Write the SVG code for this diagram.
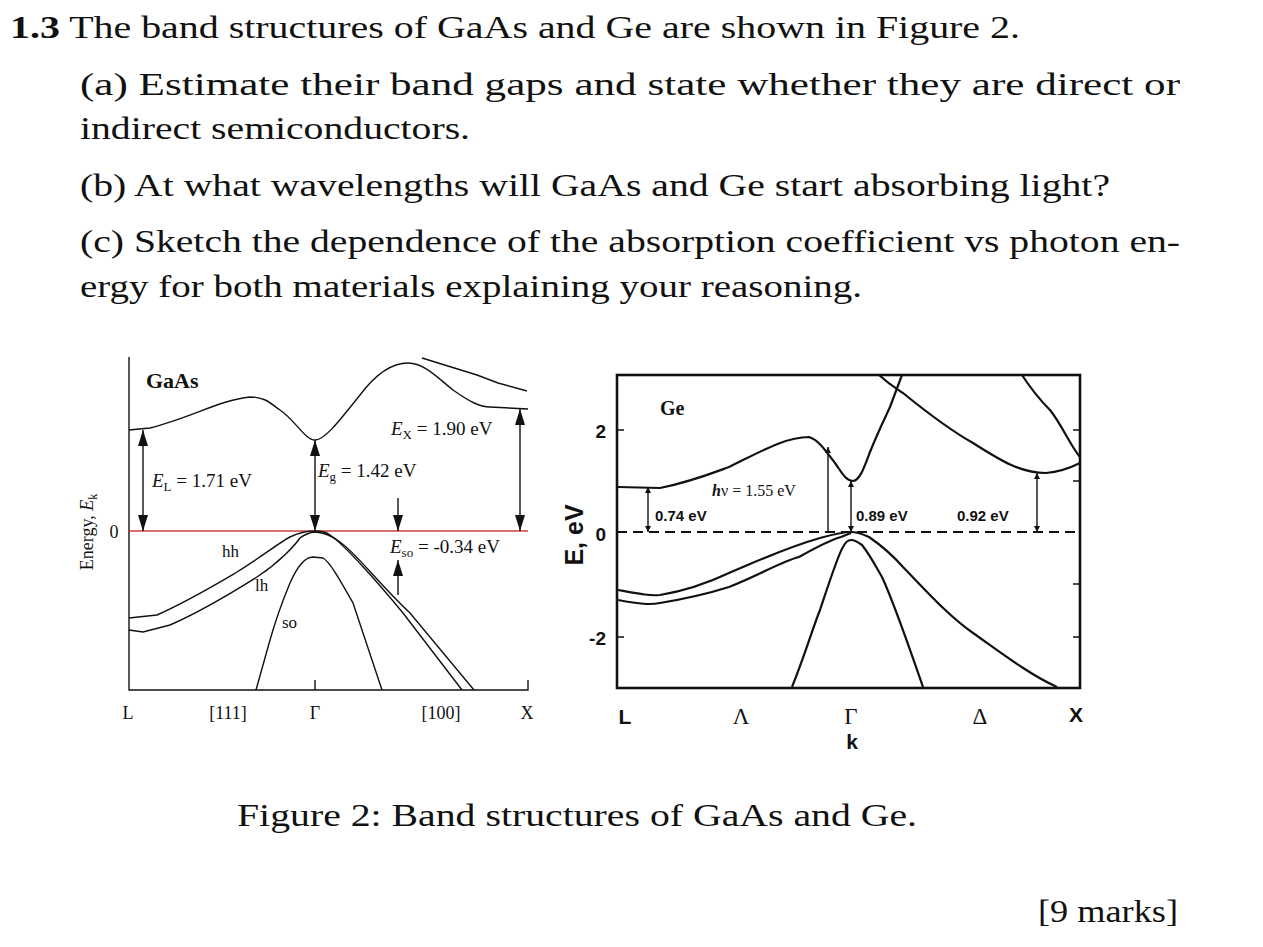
<svg xmlns="http://www.w3.org/2000/svg" width="1263" height="947" viewBox="0 0 1263 947">
<style>
.t{font-family:"Liberation Serif",serif;font-size:32px;fill:#111}
.s{font-family:"Liberation Serif",serif;fill:#111}
.b{font-family:"Liberation Sans",sans-serif;font-weight:bold;fill:#111}
.c{fill:none;stroke:#111;stroke-width:1.4}
.g{fill:none;stroke:#111;stroke-width:2.2}
.ar{stroke:#111;stroke-width:1.4}
</style>
<defs>
<marker id="ah" viewBox="0 0 16 10" refX="16" refY="5" markerWidth="16" markerHeight="10" orient="auto" markerUnits="userSpaceOnUse"><path d="M0,0 L16,5 L0,10 z" fill="#111"/></marker>
<marker id="ahs" viewBox="0 0 10 10" refX="10" refY="5" markerWidth="6" markerHeight="6" orient="auto" markerUnits="userSpaceOnUse"><path d="M0,0 L10,5 L0,10 z" fill="#111"/></marker>
</defs>
<rect width="1263" height="947" fill="#fff"/>
<g id="question">
<text class="t" x="10" y="38" textLength="1010" lengthAdjust="spacingAndGlyphs"><tspan font-weight="bold">1.3</tspan> The band structures of GaAs and Ge are shown in Figure 2.</text>
<text class="t" x="80" y="95" textLength="1100" lengthAdjust="spacingAndGlyphs">(a) Estimate their band gaps and state whether they are direct or</text>
<text class="t" x="80" y="139" textLength="390" lengthAdjust="spacingAndGlyphs">indirect semiconductors.</text>
<text class="t" x="80" y="196" textLength="1030" lengthAdjust="spacingAndGlyphs">(b) At what wavelengths will GaAs and Ge start absorbing light?</text>
<text class="t" x="80" y="252" textLength="1100" lengthAdjust="spacingAndGlyphs">(c) Sketch the dependence of the absorption coefficient vs photon en-</text>
<text class="t" x="80" y="297" textLength="782" lengthAdjust="spacingAndGlyphs">ergy for both materials explaining your reasoning.</text>
<text class="t" x="237" y="826" textLength="680" lengthAdjust="spacingAndGlyphs">Figure 2: Band structures of GaAs and Ge.</text>
<text class="t" x="1038" y="922" textLength="140" lengthAdjust="spacingAndGlyphs">[9 marks]</text>
</g>
<g id="gaas">
<path class="c" d="M129,357 V690 H528 V680 M315,690 V680"/>
<line x1="129" y1="531" x2="528" y2="531" stroke="#d04040" stroke-width="1.4"/>
<path class="c" d="M129,430 L150,428 C190,418 220,400 250,397 C265,397 270,403 280,410 C295,420 305,440 315,440 C325,440 340,420 360,395 C375,375 390,363 408,363 C425,363 440,380 453,390 C470,402 480,407 490,407 L528,409"/>
<path class="c" d="M422,358 L477,375 L498,383 L527,391"/>
<path class="c" d="M129,618 L157,615 C190,600 215,585 237,572 C260,558 280,542 290,537 C300,532 310,531 315,531 C320,531 325,531 330,535 C345,545 380,585 403,613 L462,690"/>
<path class="c" d="M129,630 L143,632 L170,625 C200,612 230,594 257,577 C280,562 295,545 300,538 C305,534 312,532 315,532 C325,533 330,535 340,542 C355,552 380,585 410,613 L474,690"/>
<path class="c" d="M256,690 L270,640 C278,612 285,595 290,583 C298,565 305,557 313,557 L323,558 C330,562 340,580 353,603 L382,690"/>
<line class="ar" x1="143" y1="460" x2="143" y2="430" marker-end="url(#ah)"/>
<line class="ar" x1="143" y1="460" x2="143" y2="531" marker-end="url(#ah)"/>
<line class="ar" x1="315" y1="470" x2="315" y2="440" marker-end="url(#ah)"/>
<line class="ar" x1="315" y1="470" x2="315" y2="531" marker-end="url(#ah)"/>
<line class="ar" x1="520" y1="440" x2="520" y2="409" marker-end="url(#ah)"/>
<line class="ar" x1="520" y1="440" x2="520" y2="531" marker-end="url(#ah)"/>
<line class="ar" x1="398" y1="498" x2="398" y2="531" marker-end="url(#ah)"/>
<line class="ar" x1="398" y1="595" x2="398" y2="560" marker-end="url(#ah)"/>
<text class="s" x="146" y="388" font-size="22" font-weight="bold">GaAs</text>
<text class="s" x="152" y="487" font-size="19"><tspan font-style="italic">E</tspan><tspan font-size="13" dy="4">L</tspan><tspan dy="-4"> = 1.71 eV</tspan></text>
<text class="s" x="318" y="477" font-size="19"><tspan font-style="italic">E</tspan><tspan font-size="13" dy="4">g</tspan><tspan dy="-4"> = 1.42 eV</tspan></text>
<text class="s" x="391" y="435" font-size="19"><tspan font-style="italic">E</tspan><tspan font-size="13" dy="4">X</tspan><tspan dy="-4"> = 1.90 eV</tspan></text>
<text class="s" x="390" y="553" font-size="19"><tspan font-style="italic">E</tspan><tspan font-size="13" dy="4">so</tspan><tspan dy="-4"> = -0.34 eV</tspan></text>
<text class="s" x="222" y="557" font-size="17">hh</text>
<text class="s" x="255" y="591" font-size="17">lh</text>
<text class="s" x="282" y="628" font-size="17">so</text>
<text class="s" x="114" y="538" font-size="18" text-anchor="middle">0</text>
<text class="s" font-size="18" transform="translate(93,532) rotate(-90)" text-anchor="middle">Energy, <tspan font-style="italic">E</tspan><tspan font-size="12" dy="4">k</tspan></text>
<text class="s" x="128" y="719" font-size="18" text-anchor="middle">L</text>
<text class="s" x="228" y="719" font-size="18" text-anchor="middle">[111]</text>
<text class="s" x="315" y="719" font-size="18" text-anchor="middle">Γ</text>
<text class="s" x="441" y="719" font-size="18" text-anchor="middle">[100]</text>
<text class="s" x="527" y="719" font-size="18" text-anchor="middle">X</text>
</g>
<g id="ge">
<rect x="617" y="375" width="463" height="313" fill="none" stroke="#111" stroke-width="2.6"/>
<path class="c" d="M617,430 h7 M617,637 h7 M1080,430 h-7 M1080,481 h-7 M1080,584 h-7 M1080,637 h-7"/>
<line x1="617" y1="532" x2="1080" y2="532" stroke="#111" stroke-width="2" stroke-dasharray="10,6"/>
<path class="g" d="M618,487 L660,488 C690,482 710,474 729,467 C760,452 785,437 809,437 C818,440 823,447 835,463 C842,473 846,481 853,481 C860,480 864,468 870,452 C878,432 884,420 890,407 L902,375"/>
<path class="g" d="M879,375 C890,385 897,389 903,393 C930,415 950,430 973,443 C1000,460 1020,473 1046,473 C1060,472 1070,468 1080,463"/>
<path class="g" d="M1022,375 C1035,395 1045,405 1050,410 C1062,425 1070,445 1080,457"/>
<path class="g" d="M618,590 C640,594 650,596 660,595 C690,590 710,582 729,573 C760,560 785,548 820,538 C838,533 845,532 851,532 C858,532 862,534 869,537 C885,548 895,558 903,567 C930,595 950,617 973,633 C1000,652 1030,675 1057,687"/>
<path class="g" d="M618,600 C640,604 650,605 660,603 C690,598 710,593 729,587 C760,575 780,562 799,557 C815,548 830,540 841,537 L851,533"/>
<path class="g" d="M792,687 C805,655 812,630 820,610 C830,580 838,555 843,547 C846,541 849,540 851,540 C855,540 858,542 862,545 C870,555 875,565 882,577 C895,605 910,650 923,687"/>
<line class="ar" x1="648" y1="510" x2="648" y2="487" marker-end="url(#ahs)"/>
<line class="ar" x1="648" y1="510" x2="648" y2="532" marker-end="url(#ahs)"/>
<line class="ar" x1="828" y1="532" x2="828" y2="447" stroke-width="1" marker-end="url(#ahs)"/>
<line class="ar" x1="851" y1="505" x2="851" y2="481" marker-end="url(#ahs)"/>
<line class="ar" x1="851" y1="505" x2="851" y2="532" marker-end="url(#ahs)"/>
<line class="ar" x1="1037" y1="500" x2="1037" y2="473" marker-end="url(#ahs)"/>
<line class="ar" x1="1037" y1="500" x2="1037" y2="532" marker-end="url(#ahs)"/>
<text class="s" x="660" y="415" font-size="20" font-weight="bold">Ge</text>
<text class="b" x="655" y="521" font-size="15">0.74 eV</text>
<text class="s" x="712" y="496" font-size="16"><tspan font-weight="bold" font-style="italic">h</tspan>ν = 1.55 eV</text>
<text class="b" x="856" y="521" font-size="15">0.89 eV</text>
<text class="b" x="957" y="521" font-size="15">0.92 eV</text>
<text class="b" x="606" y="438" font-size="19" text-anchor="end">2</text>
<text class="b" x="606" y="541" font-size="19" text-anchor="end">0</text>
<text class="b" x="606" y="645" font-size="19" text-anchor="end">-2</text>
<text class="b" font-size="25" transform="translate(583,535) rotate(-90)" text-anchor="middle">E, eV</text>
<text class="b" x="625" y="724" font-size="21" text-anchor="middle">L</text>
<text class="s" x="741" y="724" font-size="23" text-anchor="middle">Λ</text>
<text class="s" x="851" y="724" font-size="23" text-anchor="middle">Γ</text>
<text class="s" x="980" y="724" font-size="23" text-anchor="middle">Δ</text>
<text class="b" x="1076" y="722" font-size="21" text-anchor="middle">X</text>
<text class="b" x="852" y="749" font-size="21" text-anchor="middle">k</text>
</g>
</svg>
